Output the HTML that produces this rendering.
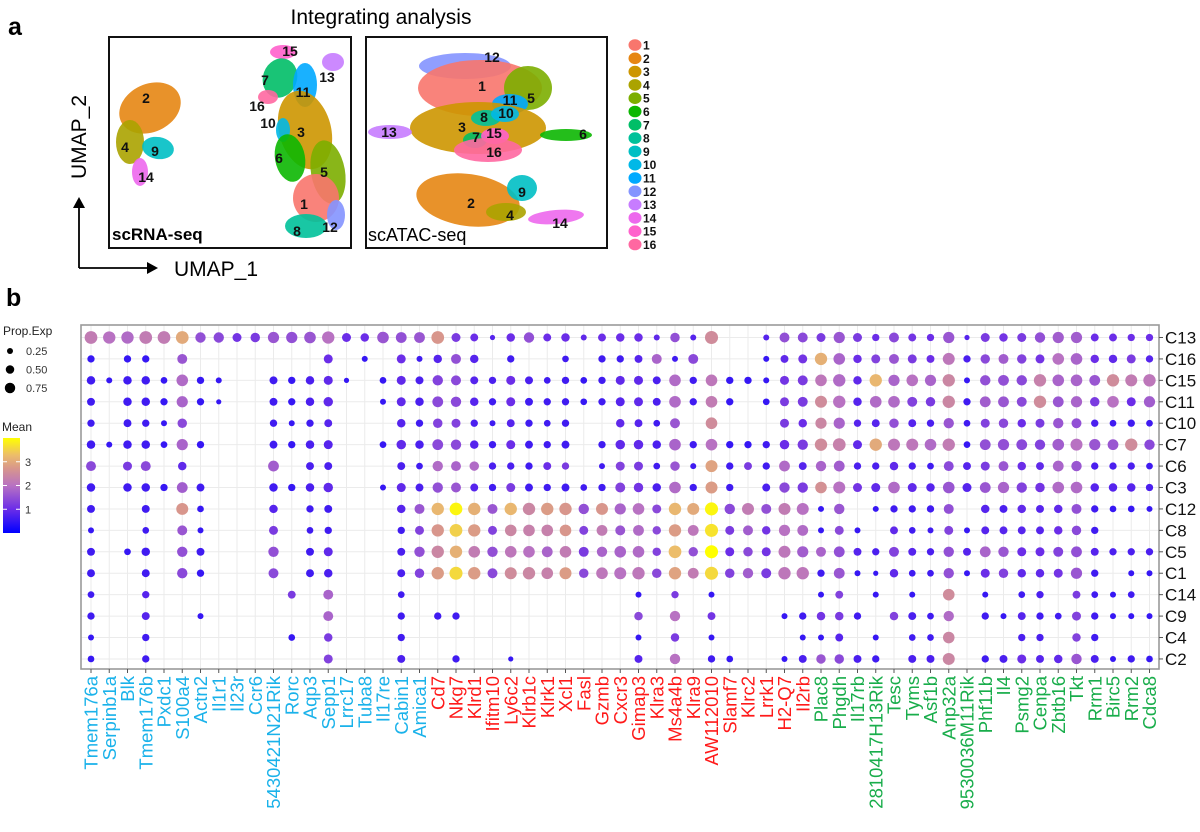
<!DOCTYPE html>
<html><head><meta charset="utf-8"><style>
html,body{margin:0;padding:0;background:#fff;}
svg{display:block;font-family:"Liberation Sans",sans-serif;}
</style></head><body>
<svg id="fig" width="1200" height="832" viewBox="0 0 1200 832">
<g id="panelA">
<text x="8" y="35" font-size="25" font-weight="bold">a</text>
<text x="381" y="24" font-size="21" text-anchor="middle">Integrating analysis</text>
<text transform="translate(86,137) rotate(-90)" font-size="21" text-anchor="middle">UMAP_2</text>
<text x="174" y="276" font-size="21">UMAP_1</text>
<g stroke="#000" stroke-width="1.8" fill="#000">
<line x1="79" y1="268" x2="79" y2="206"/><polygon points="73,208 85,208 79,197" stroke="none"/>
<line x1="79" y1="268" x2="148" y2="268"/><polygon points="147,262 147,274 158,268" stroke="none"/>
</g>
<rect x="109" y="37" width="242" height="211" fill="none" stroke="#111" stroke-width="2"/>
<rect x="366" y="37" width="241" height="211" fill="none" stroke="#111" stroke-width="2"/>
<g id="rnaBlobs"></g>
<g id="atacBlobs"></g>
<text x="112" y="240" font-size="17" font-weight="bold">scRNA-seq</text>
<text x="368" y="241" font-size="18">scATAC-seq</text>
<g id="clLegend"></g>
</g>
<g id="panelB">
<text x="6" y="306" font-size="25" font-weight="bold">b</text>
<text x="3" y="335" font-size="12" fill="#222">Prop.Exp</text>
<g id="sizeLeg"></g>
<text x="2" y="431" font-size="12" fill="#222">Mean</text>
<defs><linearGradient id="cbar" x1="0" y1="1" x2="0" y2="0">
<stop offset="0" stop-color="#0000ff"/><stop offset="0.25" stop-color="#6b2de8"/><stop offset="0.5" stop-color="#b872c2"/><stop offset="0.68" stop-color="#d8968c"/><stop offset="0.82" stop-color="#ecbd6a"/><stop offset="1" stop-color="#ffff00"/></linearGradient></defs>
<rect x="3" y="438" width="17" height="95" fill="url(#cbar)"/>
<g id="cbTicks"></g>
<g id="grid"></g>
<g id="dots"></g>
<rect x="81" y="325" width="1078" height="344" fill="none" stroke="#9a9a9a" stroke-width="1.6"/>
<g id="yAxis"></g>
<g id="xAxis"></g>
</g>
</svg>
<script>
const NS="http://www.w3.org/2000/svg";
const genes=["Tmem176a","Serpinb1a","Blk","Tmem176b","Pxdc1","S100a4","Actn2","Il1r1","Il23r","Ccr6","5430421N21Rik","Rorc","Aqp3","Sepp1","Lrrc17","Tuba8","Il17re","Cabin1","Amica1","Cd7","Nkg7","Klrd1","Ifitm10","Ly6c2","Klrb1c","Klrk1","Xcl1","Fasl","Gzmb","Cxcr3","Gimap3","Klra3","Ms4a4b","Klra9","AW112010","Slamf7","Klrc2","Lrrk1","H2-Q7","Il2rb","Plac8","Phgdh","Il17rb","2810417H13Rik","Tesc","Tyms","Asf1b","Anp32a","9530036M11Rik","Phf11b","Il4","Psmg2","Cenpa","Zbtb16","Tkt","Rrm1","Birc5","Rrm2","Cdca8"];
const geneGroup=[19,21,19]; // blue, red, green group sizes
const clusters=["C13","C16","C15","C11","C10","C7","C6","C3","C12","C8","C5","C1","C14","C9","C4","C2"];
const sizeTicks=[0.25,0.5,0.75];
const colorTicks=[1,2,3];
// each row: [geneIndex, proportion expressed, mean expression]
const rowC13=[[0,.9,2.2],[1,.85,2.0],[2,.85,1.9],[3,.9,2.2],[4,.9,2.2],[5,.9,3.0],[6,.6,1.5],[7,.6,1.4],[8,.45,1.1],[9,.5,1.2],[10,.7,1.6],[11,.7,1.5],[12,.75,1.6],[13,.85,2.0],[14,.45,1.0],[15,.4,1.0],[16,.75,1.6],[17,.65,1.5],[18,.65,1.6],[19,.9,2.7],[20,.45,1.2],[21,.35,1.0],[22,.15,.8],[23,.4,1.0],[24,.6,1.5],[25,.35,1.0],[26,.4,1.0],[27,.2,.9],[28,.35,1.0],[29,.4,1.0],[30,.4,1.0],[31,.2,.9],[32,.5,1.5],[33,.2,.8],[34,.95,2.5],[37,.2,.8],[38,.55,1.5],[39,.55,1.4],[40,.45,1.2],[41,.7,1.6],[42,.45,1.2],[43,.3,1.0],[44,.55,1.4],[45,.35,1.1],[46,.3,1.0],[47,.7,1.6],[48,.15,.8],[49,.45,1.2],[50,.4,1.1],[51,.45,1.2],[52,.6,1.5],[53,.7,1.7],[54,.7,1.7],[55,.35,1.0],[56,.35,1.0],[57,.3,1.0],[58,.3,1.0]];
const rowC16=[[0,.3,.5],[2,.3,.5],[3,.3,.5],[5,.55,1.6],[13,.45,1.0],[15,.2,.5],[17,.45,1.0],[18,.2,.6],[19,.4,.8],[20,.55,1.5],[21,.4,.8],[23,.3,.6],[26,.25,.6],[28,.3,.6],[29,.3,.6],[30,.35,.8],[31,.55,1.8],[32,.2,.6],[33,.55,1.4],[37,.2,.5],[38,.35,.9],[39,.45,1.1],[40,.85,3.1],[41,.75,1.8],[42,.4,1.0],[43,.45,1.3],[44,.55,1.6],[45,.45,1.2],[46,.35,1.0],[47,.8,2.1],[48,.3,.7],[49,.5,1.4],[50,.55,1.7],[51,.5,1.3],[52,.45,1.1],[53,.75,2.0],[54,.75,1.8],[55,.4,1.0],[56,.4,.9],[57,.45,1.2],[58,.3,.8]];
const rowC15=[[0,.4,.6],[1,.2,.5],[2,.4,.6],[3,.4,.6],[4,.25,.5],[5,.75,1.9],[6,.3,.5],[7,.2,.5],[10,.35,.6],[11,.3,.5],[12,.4,.7],[13,.45,.9],[14,.15,.5],[16,.25,.5],[17,.45,.9],[18,.35,.7],[19,.6,1.3],[20,.55,1.4],[21,.35,.8],[22,.3,.7],[23,.45,1.0],[24,.35,.7],[25,.25,.6],[26,.3,.6],[27,.25,.5],[28,.3,.6],[29,.45,.9],[30,.45,.9],[31,.35,.7],[32,.75,1.9],[33,.3,.6],[34,.75,2.1],[35,.3,.5],[36,.3,.5],[37,.2,.5],[38,.45,1.1],[39,.55,1.2],[40,.75,2.1],[41,.85,1.9],[42,.4,.9],[43,.85,3.2],[44,.7,1.8],[45,.75,2.0],[46,.7,1.8],[47,.85,2.4],[48,.2,.5],[49,.6,1.5],[50,.65,1.5],[51,.6,1.4],[52,.85,2.3],[53,.75,1.8],[54,.75,1.8],[55,.65,1.6],[56,.85,2.5],[57,.8,2.2],[58,.85,2.1]];
const rowC11=[[0,.35,.6],[2,.4,.6],[3,.4,.6],[4,.3,.5],[5,.7,1.8],[6,.3,.5],[7,.15,.5],[10,.35,.6],[11,.3,.5],[12,.4,.7],[13,.5,.9],[16,.2,.5],[17,.45,.9],[18,.4,.7],[19,.65,1.4],[20,.6,1.4],[21,.4,.8],[22,.3,.6],[23,.45,1.0],[24,.35,.6],[25,.3,.6],[26,.3,.6],[27,.25,.5],[28,.3,.6],[29,.45,.8],[30,.45,.9],[31,.35,.7],[32,.75,1.9],[33,.3,.6],[34,.75,2.2],[35,.3,.5],[37,.25,.5],[38,.45,1.2],[39,.55,1.2],[40,.8,2.5],[41,.85,2.0],[42,.4,.8],[43,.75,1.9],[44,.75,1.9],[45,.55,1.3],[46,.5,1.2],[47,.85,2.4],[48,.3,.6],[49,.65,1.7],[50,.65,1.6],[51,.55,1.4],[52,.85,2.5],[53,.65,1.6],[54,.7,1.8],[55,.5,1.2],[56,.75,2.0],[57,.45,1.0],[58,.7,1.7]];
const rowC10=[[0,.3,.6],[2,.35,.6],[3,.3,.6],[4,.2,.5],[5,.5,1.4],[10,.3,.6],[11,.2,.5],[12,.3,.6],[13,.35,.8],[17,.4,.8],[18,.3,.6],[19,.5,1.3],[20,.45,1.3],[21,.3,.7],[22,.2,.6],[23,.35,.8],[24,.3,.6],[25,.25,.6],[26,.3,.6],[29,.4,.9],[30,.35,.8],[31,.25,.6],[32,.55,1.6],[34,.75,2.5],[38,.45,1.2],[39,.4,1.0],[40,.7,2.4],[41,.7,1.8],[42,.3,.8],[43,.35,.8],[44,.5,1.5],[45,.35,.8],[46,.3,.7],[47,.6,1.6],[48,.25,.6],[49,.45,1.3],[50,.5,1.4],[51,.4,1.0],[52,.45,1.2],[53,.6,1.6],[54,.55,1.5],[55,.3,.7],[56,.25,.6],[57,.3,.6],[58,.25,.6]];
const rowC7=[[0,.4,.6],[1,.2,.5],[2,.4,.6],[3,.4,.6],[4,.25,.5],[5,.7,1.8],[6,.3,.5],[10,.35,.6],[11,.3,.5],[12,.4,.7],[13,.45,.8],[16,.25,.5],[17,.5,.9],[18,.4,.7],[19,.65,1.4],[20,.6,1.4],[21,.4,.8],[22,.3,.6],[23,.45,1.0],[24,.35,.6],[25,.3,.6],[26,.35,.6],[28,.3,.6],[29,.5,.9],[30,.5,.9],[31,.4,.7],[32,.75,1.8],[33,.3,.6],[34,.75,2.0],[35,.3,.5],[36,.3,.5],[37,.3,.6],[38,.5,1.0],[39,.6,1.2],[40,.85,2.5],[41,.9,2.3],[42,.45,.9],[43,.85,3.0],[44,.8,2.1],[45,.8,2.1],[46,.75,1.9],[47,.85,2.2],[48,.25,.5],[49,.65,1.5],[50,.7,1.5],[51,.65,1.4],[52,.6,1.3],[53,.75,1.7],[54,.8,2.0],[55,.7,1.6],[56,.65,1.6],[57,.85,2.5],[58,.6,1.4]];
const rowC6=[[0,.55,1.4],[2,.45,1.2],[3,.55,1.4],[5,.4,.9],[10,.65,1.7],[12,.35,.7],[13,.35,.7],[17,.35,.7],[18,.25,.6],[19,.6,1.9],[20,.55,1.8],[21,.5,1.9],[22,.3,.7],[23,.3,.7],[24,.3,.6],[25,.35,1.0],[26,.3,1.2],[28,.2,.6],[29,.45,1.3],[30,.45,1.2],[31,.25,.6],[32,.5,1.6],[33,.2,.6],[34,.8,2.9],[35,.3,.6],[36,.35,1.2],[37,.3,.6],[38,.65,1.9],[39,.35,.8],[40,.6,1.8],[41,.65,1.7],[42,.3,.7],[43,.3,.7],[44,.4,.9],[45,.3,.7],[46,.25,.6],[47,.55,1.4],[48,.35,.8],[49,.45,1.2],[50,.55,1.6],[51,.4,1.0],[52,.35,.9],[53,.65,1.8],[54,.6,1.6],[55,.3,.7],[56,.3,.7],[57,.3,.7],[58,.25,.6]];
const rowC3=[[0,.4,.6],[2,.4,.6],[3,.4,.6],[4,.3,.5],[5,.65,1.7],[6,.35,.6],[10,.4,.6],[11,.3,.5],[12,.4,.7],[13,.5,.9],[16,.2,.5],[17,.45,.9],[18,.35,.7],[19,.6,1.5],[20,.55,1.6],[21,.35,.8],[22,.3,.6],[23,.45,1.2],[24,.35,.6],[25,.3,.6],[26,.35,.6],[27,.25,.6],[28,.3,.6],[29,.55,1.3],[30,.5,1.1],[31,.4,.7],[32,.75,1.9],[33,.3,.6],[34,.8,2.8],[35,.3,.6],[37,.35,.7],[38,.6,1.4],[39,.6,1.2],[40,.75,2.6],[41,.8,2.0],[42,.45,1.1],[43,.45,.9],[44,.75,1.9],[45,.45,.9],[46,.4,.8],[47,.75,1.6],[48,.45,.8],[49,.65,1.6],[50,.7,1.8],[51,.6,1.3],[52,.5,1.1],[53,.75,1.9],[54,.75,1.9],[55,.4,.8],[56,.4,.8],[57,.4,.8],[58,.3,.7]];
const rowC12=[[0,.35,.6],[3,.35,.6],[5,.8,2.7],[6,.25,.5],[10,.4,.8],[12,.3,.6],[13,.35,.6],[17,.4,.8],[18,.55,1.6],[19,.85,3.2],[20,.9,3.9],[21,.85,3.1],[22,.55,1.6],[23,.85,3.2],[24,.85,2.4],[25,.85,2.8],[26,.85,2.7],[27,.6,1.5],[28,.8,2.7],[29,.7,1.8],[30,.75,2.0],[31,.45,1.4],[32,.85,3.2],[33,.8,3.0],[34,.95,3.9],[35,.6,1.4],[36,.8,2.2],[37,.55,1.5],[38,.8,2.2],[39,.8,2.0],[40,.2,.5],[41,.6,1.6],[43,.2,.5],[44,.3,.6],[45,.3,.6],[46,.3,.6],[47,.55,1.5],[49,.4,.8],[50,.35,.7],[51,.4,.9],[52,.35,.8],[53,.4,.9],[54,.55,1.5],[55,.3,.6],[56,.25,.5],[57,.25,.5],[58,.2,.5]];
const rowC8=[[0,.2,.5],[3,.25,.6],[5,.55,1.6],[6,.2,.5],[10,.45,1.2],[12,.25,.6],[13,.3,.6],[17,.3,.6],[18,.45,1.3],[19,.85,2.7],[20,.9,3.5],[21,.85,2.8],[22,.45,1.3],[23,.75,2.4],[24,.75,2.3],[25,.75,2.3],[26,.75,2.7],[27,.45,1.3],[28,.65,2.2],[29,.55,1.6],[30,.65,1.9],[31,.4,1.4],[32,.85,2.8],[33,.65,2.1],[34,.95,3.7],[35,.45,1.2],[36,.55,1.7],[37,.4,1.1],[38,.7,2.0],[39,.65,1.9],[40,.2,.5],[41,.45,1.4],[42,.2,.5],[44,.35,.9],[45,.25,.6],[46,.2,.6],[47,.45,1.3],[48,.2,.5],[49,.35,.8],[50,.35,.8],[51,.35,.8],[52,.35,.8],[53,.4,1.0],[54,.5,1.4],[55,.3,.6]];
const rowC5=[[0,.35,.6],[2,.25,.5],[3,.4,.6],[5,.6,1.5],[6,.35,.6],[10,.6,1.5],[12,.35,.6],[13,.45,.9],[17,.35,.7],[18,.6,1.5],[19,.85,2.4],[20,.85,3.1],[21,.75,2.2],[22,.6,1.5],[23,.75,2.1],[24,.75,2.0],[25,.65,1.8],[26,.75,2.2],[27,.55,1.2],[28,.6,1.8],[29,.75,1.8],[30,.75,1.9],[31,.4,1.3],[32,.9,3.3],[33,.5,1.5],[34,.95,4.0],[35,.45,1.0],[36,.5,1.4],[37,.45,1.1],[38,.8,2.1],[39,.7,1.7],[40,.55,1.8],[41,.65,1.5],[42,.35,.8],[43,.3,.7],[44,.55,1.3],[45,.35,.8],[46,.3,.7],[47,.6,1.5],[48,.35,.8],[49,.65,1.8],[50,.6,1.6],[51,.45,1.0],[52,.45,1.0],[53,.55,1.3],[54,.65,1.5],[55,.35,.8],[56,.3,.7],[57,.3,.7],[58,.3,.7]];
const rowC1=[[0,.35,.6],[3,.35,.6],[5,.6,1.4],[6,.3,.5],[10,.55,1.4],[12,.35,.6],[13,.4,.7],[17,.35,.7],[18,.5,1.3],[19,.85,2.8],[20,.95,3.6],[21,.85,2.8],[22,.55,1.4],[23,.8,2.5],[24,.85,2.4],[25,.75,2.3],[26,.8,2.8],[27,.5,1.4],[28,.75,2.1],[29,.8,2.0],[30,.85,2.1],[31,.5,1.4],[32,.85,2.9],[33,.65,2.2],[34,.95,3.6],[35,.5,1.3],[36,.6,1.7],[37,.55,1.2],[38,.85,2.1],[39,.85,2.1],[40,.3,.6],[41,.65,1.6],[42,.2,.5],[43,.15,.5],[44,.4,.9],[45,.25,.6],[46,.25,.6],[47,.6,1.5],[48,.2,.5],[49,.45,1.0],[50,.5,1.3],[51,.4,.9],[52,.4,.9],[53,.45,1.1],[54,.7,1.6],[55,.3,.6],[57,.2,.5],[58,.2,.5]];
const rowC14=[[0,.25,.6],[3,.3,.8],[11,.35,1.2],[13,.55,1.8],[17,.25,.6],[30,.2,.5],[32,.3,1.2],[34,.2,.5],[40,.2,.5],[41,.35,1.3],[43,.2,.5],[45,.2,.5],[47,.75,2.5],[49,.2,.5],[51,.25,.6],[52,.3,.7],[54,.35,1.2],[55,.25,.6],[56,.2,.5],[57,.25,.6]];
const rowC9=[[0,.3,.6],[3,.35,.8],[6,.2,.5],[13,.55,1.8],[17,.3,.6],[19,.3,.6],[20,.3,.6],[30,.4,1.4],[32,.6,2.0],[34,.35,1.1],[38,.2,.5],[39,.3,.6],[40,.4,1.1],[41,.4,1.2],[42,.3,.6],[44,.4,1.3],[45,.35,.7],[46,.25,.6],[47,.6,1.9],[49,.3,.6],[50,.2,.5],[51,.35,.8],[52,.3,.6],[53,.25,.6],[54,.45,1.3],[55,.3,.6],[56,.2,.5],[57,.2,.5],[58,.2,.5]];
const rowC4=[[0,.2,.5],[3,.3,.6],[11,.25,.5],[13,.4,1.2],[17,.3,.6],[30,.2,.5],[32,.4,1.2],[34,.2,.5],[39,.2,.5],[40,.2,.5],[41,.35,.8],[43,.2,.5],[45,.25,.6],[46,.25,.6],[47,.75,2.4],[51,.3,.7],[52,.3,.7],[54,.4,1.3],[55,.3,.6]];
const rowC2=[[0,.25,.5],[3,.3,.6],[13,.45,1.3],[17,.35,.7],[20,.3,.6],[23,.15,.5],[30,.35,.8],[32,.6,2.0],[34,.3,.6],[35,.25,.5],[38,.2,.5],[39,.35,.7],[40,.5,1.6],[41,.5,1.4],[42,.35,.7],[43,.3,.6],[45,.35,.7],[46,.35,.7],[47,.8,2.4],[49,.3,.6],[50,.35,.7],[51,.45,1.0],[52,.35,.8],[53,.4,.9],[54,.6,1.6],[55,.35,.7],[56,.2,.5],[57,.3,.6],[58,.25,.5]];
const rows=[rowC13,rowC16,rowC15,rowC11,rowC10,rowC7,rowC6,rowC3,rowC12,rowC8,rowC5,rowC1,rowC14,rowC9,rowC4,rowC2];

function el(tag,attrs,parent){const e=document.createElementNS(NS,tag);for(const k in attrs)e.setAttribute(k,attrs[k]);parent.appendChild(e);return e;}
const xScale=j=>91+j*18.25;
const yScale=i=>337.5+i*21.43;
const rScale=p=>Math.sqrt(p)*6.7;
const cbY=v=>533-(v/4)*95;
const stops=[[0,[0,0,255]],[1,[107,45,232]],[2,[184,114,194]],[2.7,[216,150,140]],[3.3,[236,189,106]],[4,[255,255,0]]];
function colorOf(v){v=Math.max(0,Math.min(4,v));for(let i=1;i<stops.length;i++){if(v<=stops[i][0]){const a=stops[i-1],b=stops[i];const t=(v-a[0])/(b[0]-a[0]);const c=a[1].map((x,k)=>Math.round(x+(b[1][k]-x)*t));return `rgb(${c[0]},${c[1]},${c[2]})`;}}return "#ff0";}

const grid=document.getElementById('grid');
genes.forEach((g,j)=>{const l=el('line',{x1:xScale(j),x2:xScale(j),y1:325,y2:669,stroke:'#ebebeb','stroke-width':1},grid);

});
clusters.forEach((c,i)=>{const l=el('line',{x1:81,x2:1159,y1:yScale(i),y2:yScale(i),stroke:'#ebebeb','stroke-width':1},grid);

});

const dots=document.getElementById('dots');
rows.forEach((row,i)=>{row.forEach(d=>{const c=el('circle',{cx:xScale(d[0]),cy:yScale(i),r:rScale(d[1]),fill:colorOf(d[2])},dots);

});});

const ya=document.getElementById('yAxis');
clusters.forEach((c,i)=>{const t=el('line',{x1:1159,x2:1163,y1:yScale(i),y2:yScale(i),stroke:'#555'},ya);


const tx=el('text',{x:1165,y:yScale(i)+6,'font-size':17,fill:'#111'},ya);tx.textContent=c;

});

const xa=document.getElementById('xAxis');
const grpColors=['#1ab2ea','#ff1a1a','#19ad4b'];
genes.forEach((g,j)=>{const grp=j<geneGroup[0]?0:(j<geneGroup[0]+geneGroup[1]?1:2);
const t=el('line',{x1:xScale(j),x2:xScale(j),y1:669,y2:673,stroke:'#555'},xa);


const tx=el('text',{transform:`translate(${xScale(j)+6.5},676) rotate(-90)`,'font-size':18.5,'text-anchor':'end',fill:grpColors[grp]},xa);tx.textContent=g;

});

const sl=document.getElementById('sizeLeg');
sizeTicks.forEach((p,k)=>{const y=351+k*18.5;const c=el('circle',{cx:10,cy:y,r:rScale(p)*0.9,fill:'#000'},sl);


const t=el('text',{x:26,y:y+4,'font-size':11,fill:'#333'},sl);t.textContent=p.toFixed(2);

});
const cb=document.getElementById('cbTicks');
colorTicks.forEach(v=>{const y=cbY(v);const l=el('line',{x1:3,x2:7,y1:y,y2:y,stroke:'#fff','stroke-width':1},cb);


const l2=el('line',{x1:16,x2:20,y1:y,y2:y,stroke:'#fff','stroke-width':1},cb);


const t=el('text',{x:25,y:y+4,'font-size':11,fill:'#333'},cb);t.textContent=v;

});

const clColors=["#F8766D","#E68613","#CD9600","#ABA300","#7CAE00","#0CB702","#00BE67","#00C19A","#00BFC4","#00B8E7","#00A9FF","#8494FF","#C77CFF","#ED68ED","#FF61CC","#FF68A1"];
// [cluster, cx, cy, rx, ry, rotation, labelX, labelY]
const rnaBlobs=[[2,150,108,32,24,-25,146,103],[4,130,142,14,22,0,125,152],[9,158,148,16,11,10,155,156],[14,140,172,8,14,0,146,182],[15,283,52,13,7,0,290,56],[7,280,78,17,20,20,265,85],[11,305,85,12,22,0,303,97],[13,333,62,11,9,0,327,82],[16,268,97,10,7,0,257,111],[3,305,130,26,40,-15,301,137],[10,283,130,7,12,0,268,128],[6,290,158,15,24,-10,279,163],[5,328,172,17,32,-10,324,177],[1,316,198,23,24,0,304,209],[12,336,215,9,15,0,330,232],[8,306,226,21,12,0,297,236]];
const atacBlobs=[[12,465,66,46,13,0,492,62],[1,480,88,62,28,0,482,91],[5,528,88,24,22,0,531,103],[11,510,104,18,10,0,510,105],[3,478,128,68,26,0,462,132],[8,486,118,15,8,0,484,122],[10,505,114,14,8,0,506,118],[7,475,140,12,8,0,476,142],[15,495,136,14,8,0,494,138],[16,488,150,34,12,0,494,157],[13,390,132,22,7,0,389,137],[6,566,135,26,6,0,583,139],[2,468,200,52,26,8,471,208],[9,522,188,15,13,0,522,197],[4,506,212,20,9,0,510,220],[14,556,217,28,7,-5,560,228]];
function drawBlobs(list,id){const g=document.getElementById(id);
list.forEach(b=>{const e=el('ellipse',{cx:b[1],cy:b[2],rx:b[3],ry:b[4],fill:clColors[b[0]-1],'fill-opacity':0.9,transform:`rotate(${b[5]},${b[1]},${b[2]})`},g);

});
list.forEach(b=>{const t=el('text',{x:b[6],y:b[7],'font-size':14,'font-weight':'bold','text-anchor':'middle',fill:'#111'},g);t.textContent=b[0];

});}
drawBlobs(rnaBlobs,'rnaBlobs');drawBlobs(atacBlobs,'atacBlobs');
const cl=document.getElementById('clLegend');
clColors.forEach((c,k)=>{const y=45+k*13.3;const e=el('ellipse',{cx:635,cy:y,rx:6.5,ry:5.8,fill:c},cl);


const t=el('text',{x:643,y:y+4.5,'font-size':12,'font-weight':'bold',fill:'#111'},cl);t.textContent=k+1;

});
</script>
</body></html>
